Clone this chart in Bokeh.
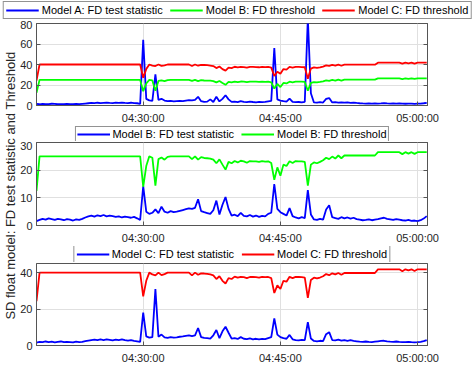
from datetime import datetime, timedelta
from bokeh.plotting import figure
from bokeh.layouts import column, row
from bokeh.models import (Range1d, FixedTicker, DatetimeTickFormatter, LinearAxis,
                          Legend, LegendItem, Label)
from bokeh.embed import file_html
from bokeh.resources import INLINE

# ---------------- data ----------------
DATE = "2020-01-01"
START_TIME = "04:18:20"      # first sample / left edge of the axes
END_TIME = "05:01:05"        # right edge of the axes
STEP_SECONDS = 20            # sampling interval of the arrays below
TICK_LABELS = ["04:30:00", "04:45:00", "05:00:00"]
Y_LABEL = "SD float model: FD test statistic and Threshold"

Y1_TICKS = [0, 20, 40, 60, 80]
Y2_TICKS = [0, 10, 20, 30]
Y3_TICKS = [0, 20, 40]
Y1_MAX, Y2_MAX, Y3_MAX = 80, 30, 45

model_a_stat = [
    1.5, 1.2, 1.6, 1.4, 1.3, 1.7, 1.5, 1.2, 1.4, 1.3,
    1.6, 1.4, 1.2, 1.5, 1.3, 1.6, 1.9, 2.2, 2.5, 2.3,
    2.7, 2.4, 2.6, 2.8, 2.5, 2.3, 2.7, 2.5, 2.9, 2.6,
    2.4, 2.7, 2.3, 2.2, 1.6, 64.0, 6.5, 5.0, 4.5, 30.5,
    5.5, 6.5, 4.8, 4.2, 4.5, 4.0, 4.3, 4.6, 4.2, 4.8,
    5.2, 5.0, 5.5, 8.5, 4.2, 3.6, 3.8, 6.0, 3.4, 8.5,
    4.0, 6.5, 10.0, 6.0, 3.5, 3.8, 3.3, 4.2, 3.5, 3.2,
    3.8, 3.4, 3.1, 3.6, 3.3, 3.5, 4.0, 4.5, 56.0, 6.0,
    4.8, 4.2, 3.8, 6.8, 3.5, 3.2, 3.4, 3.0, 3.6, 85.0,
    12.0, 3.0, 2.8, 3.2, 2.9, 6.5, 7.3, 3.0, 3.2, 2.8,
    3.1, 2.9, 3.0, 2.6, 2.9, 2.5, 2.2, 2.0, 1.9, 2.1,
    1.8, 2.0, 1.9, 2.1, 2.4, 2.0, 1.8, 2.0, 1.9, 2.1,
    1.8, 1.7, 1.9, 1.8, 1.6, 1.8, 1.9, 2.2, 2.6,
]

model_b_stat = [
    1.6, 2.0, 2.4, 2.1, 2.6, 2.3, 2.0, 2.4, 2.2, 1.9,
    2.3, 2.1, 1.8, 2.2, 2.0, 2.4, 2.9, 3.3, 3.6, 3.2,
    3.7, 3.4, 3.8, 3.3, 3.6, 3.4, 3.1, 3.3, 2.9, 3.2,
    3.0, 2.8, 3.1, 2.6, 2.0, 14.2, 5.0, 4.2, 4.6, 5.8,
    4.5, 6.8, 5.0, 4.6, 5.2, 4.8, 5.0, 5.3, 5.6, 5.9,
    6.2, 6.0, 6.4, 9.5, 5.2, 4.8, 4.5, 4.2, 5.5, 9.0,
    4.0, 7.5, 10.3, 6.0, 3.6, 3.9, 3.4, 4.6, 3.5, 3.3,
    3.8, 3.2, 3.6, 3.1, 3.5, 3.3, 4.2, 4.6, 15.0, 6.0,
    4.8, 4.2, 3.6, 6.3, 3.4, 2.9, 2.6, 3.0, 2.7, 12.8,
    4.0, 2.2, 2.0, 2.4, 2.1, 5.8, 7.3, 3.0, 2.7, 2.4,
    3.0, 2.6, 2.9, 2.5, 2.8, 2.3, 2.1, 1.9, 2.0, 2.2,
    1.9, 2.1, 2.3, 2.6, 2.8, 2.4, 2.2, 2.0, 2.3, 2.1,
    1.9, 1.8, 2.0, 1.7, 1.8, 1.6, 1.9, 2.5, 3.4,
]

model_c_stat = [
    1.6, 2.0, 1.8, 2.2, 1.9, 2.1, 1.7, 2.0, 2.2, 1.8,
    2.0, 1.9, 1.7, 2.1, 1.9, 2.0, 2.4, 2.7, 3.0, 3.2,
    2.9, 3.3, 3.0, 3.4, 3.1, 2.8, 3.2, 3.0, 3.3, 2.9,
    2.7, 3.0, 2.6, 2.3, 2.0, 18.1, 5.0, 4.3, 4.6, 31.0,
    4.8, 6.0, 4.5, 4.2, 4.6, 4.3, 4.5, 4.8, 5.0, 5.3,
    5.5, 5.2, 5.6, 9.6, 4.6, 4.2, 4.0, 3.8, 5.6, 8.5,
    4.0, 7.8, 10.3, 7.0, 3.8, 4.0, 3.6, 4.6, 3.7, 3.5,
    3.9, 3.4, 3.7, 3.3, 3.6, 3.5, 4.1, 4.6, 14.9, 6.0,
    4.6, 4.0, 3.7, 5.8, 3.4, 3.0, 2.8, 3.1, 2.9, 12.8,
    3.8, 2.5, 2.3, 2.6, 2.4, 6.2, 7.3, 3.0, 2.8, 3.2,
    2.7, 3.0, 2.6, 2.9, 2.5, 2.3, 2.1, 2.0, 2.2, 2.0,
    1.9, 2.1, 2.3, 2.5, 2.6, 2.3, 2.1, 2.0, 2.2, 2.0,
    1.9, 1.8, 2.0, 1.8, 1.7, 1.8, 2.0, 2.4, 3.0,
]

model_b_thr = [
    12.5, 25.0, 25.0, 25.0, 25.0, 25.0, 25.0, 25.0, 25.0, 25.0,
    25.0, 25.0, 25.0, 25.0, 25.0, 25.0, 25.0, 25.0, 25.0, 25.0,
    25.0, 25.0, 25.0, 25.0, 25.0, 25.0, 25.0, 25.0, 25.0, 25.0,
    25.0, 25.0, 25.0, 25.0, 25.0, 14.0, 21.5, 25.0, 24.5, 14.4,
    24.0, 24.6, 23.8, 24.8, 25.0, 25.0, 25.0, 25.0, 25.0, 25.0,
    25.0, 24.0, 25.0, 23.8, 24.7, 24.4, 24.3, 24.2, 23.8, 22.5,
    23.9, 22.0, 20.2, 23.0, 22.5, 23.3, 22.8, 23.4, 23.2, 22.7,
    23.3, 23.2, 23.2, 23.0, 23.3, 23.1, 23.2, 22.6, 16.5, 21.0,
    18.0, 22.0, 21.5, 23.2, 22.6, 23.3, 23.2, 23.2, 23.0, 14.4,
    22.0, 22.8, 22.5, 23.0, 23.6, 24.5, 24.0, 24.9, 24.2, 25.3,
    24.3, 25.3, 25.3, 25.3, 25.3, 25.3, 25.3, 25.3, 25.3, 25.3,
    25.3, 25.3, 26.5, 26.5, 26.5, 26.5, 26.5, 26.5, 26.5, 26.5,
    25.8, 26.5, 26.0, 26.5, 25.9, 26.5, 26.5, 26.5, 26.5,
]

model_c_thr = [
    24.3, 40.0, 40.0, 40.0, 40.0, 40.0, 40.0, 40.0, 40.0, 40.0,
    40.0, 40.0, 40.0, 40.0, 40.0, 40.0, 40.0, 40.0, 40.0, 40.0,
    40.0, 40.0, 40.0, 40.0, 40.0, 40.0, 40.0, 40.0, 40.0, 40.0,
    40.0, 40.0, 40.0, 40.0, 40.0, 27.0, 35.5, 40.0, 39.0, 38.5,
    40.0, 38.6, 39.2, 40.0, 40.0, 40.0, 40.0, 40.0, 40.0, 40.0,
    40.0, 38.5, 40.0, 38.8, 39.6, 39.5, 39.3, 39.0, 38.5, 36.5,
    38.0, 35.5, 34.0, 37.0, 36.5, 37.8, 37.2, 37.7, 37.5, 37.0,
    37.6, 37.6, 37.5, 37.3, 37.7, 37.5, 37.6, 37.0, 28.8, 33.0,
    31.0, 35.5, 35.0, 37.7, 37.0, 37.7, 37.6, 37.5, 37.3, 26.1,
    36.0, 37.2, 36.8, 37.3, 38.0, 39.2, 38.6, 39.6, 39.0, 39.8,
    38.8, 39.8, 39.8, 39.8, 39.8, 39.8, 39.8, 39.8, 39.8, 39.8,
    39.8, 39.8, 41.8, 41.8, 41.8, 41.8, 41.8, 41.8, 41.8, 41.8,
    40.8, 41.8, 41.2, 41.8, 40.9, 41.8, 41.8, 41.8, 41.8,
]

N = len(model_a_stat)
for arr in (model_b_stat, model_c_stat, model_b_thr, model_c_thr):
    assert len(arr) == N, len(arr)

# ---------------- helpers ----------------
def parse(t):
    return datetime.strptime(DATE + " " + t, "%Y-%m-%d %H:%M:%S")

EPOCH = datetime(1970, 1, 1)

def to_ms(dt):
    return (dt - EPOCH).total_seconds() * 1000.0

t_start = parse(START_TIME)
t_end = parse(END_TIME)
times = [t_start + timedelta(seconds=STEP_SECONDS * i) for i in range(N)]
tick_ms = [to_ms(parse(s)) for s in TICK_LABELS]

FONT = "Liberation Sans"
BOX = "#555555"
GRID = "#e0e0e0"
TXT = "#262626"
BLUE, GREEN, RED = "#0000ff", "#00ff00", "#ff0000"
LW = 1.8
HMS = "%H:%M:%S"
TOTAL_W = 474
LABEL_W = 17
PW = TOTAL_W - LABEL_W   # width of panel figures
BL, BR = 17, 47          # left / right borders of the panels
FS = "11px"


def hms_formatter():
    return DatetimeTickFormatter(microseconds=HMS, milliseconds=HMS, seconds=HMS,
                                 minsec=HMS, minutes=HMS, hourmin=HMS, hours=HMS,
                                 days=HMS, months=HMS, years=HMS)


def style_axis(ax):
    ax.major_tick_in = 4
    ax.major_tick_out = 0
    ax.minor_tick_line_color = None
    ax.axis_line_color = BOX
    ax.major_tick_line_color = BOX
    ax.major_label_text_font = FONT
    ax.major_label_text_font_size = FS
    ax.major_label_text_color = TXT


def panel(height, top, bottom, ymax, yticks):
    p = figure(width=PW, height=height, x_axis_type="datetime",
               x_range=Range1d(t_start, t_end), y_range=Range1d(0, ymax),
               output_backend="svg", toolbar_location=None,
               min_border_left=BL, min_border_right=BR,
               min_border_top=top, min_border_bottom=bottom)
    p.outline_line_color = BOX
    p.outline_line_width = 1
    xt = FixedTicker(ticks=tick_ms)
    yt = FixedTicker(ticks=yticks)
    xa = p.xaxis[0]
    ya = p.yaxis[0]
    xa.ticker = xt
    xa.formatter = hms_formatter()
    ya.ticker = yt
    style_axis(xa)
    style_axis(ya)
    xa.major_label_standoff = 6
    ya.major_label_standoff = 4
    p.xgrid[0].ticker = xt
    p.ygrid[0].ticker = yt
    p.xgrid.grid_line_color = GRID
    p.ygrid.grid_line_color = GRID
    ra = LinearAxis(ticker=FixedTicker(ticks=yticks),
                    major_label_overrides={v: "" for v in yticks})
    style_axis(ra)
    ra.major_label_standoff = 0
    p.add_layout(ra, "right")
    return p


def legend_fig(width, height, left, right, pad, entries):
    """A strip that only holds a legend; entries = (label, series, colour)."""
    f = figure(width=width, height=height, x_range=Range1d(t_start, t_end),
               y_range=Range1d(0, 1), x_axis_type=None, y_axis_type=None,
               output_backend="svg", toolbar_location=None,
               min_border_left=left, min_border_right=right,
               min_border_top=0, min_border_bottom=0)
    f.outline_line_color = None
    items = []
    for label, series, col in entries:
        r = f.line(times, series, color=col, line_width=LW, visible=False)
        items.append(LegendItem(label=label, renderers=[r]))
    leg = Legend(items=items, orientation="horizontal", location="center",
                 click_policy="none")
    leg.label_text_font = FONT
    leg.label_text_font_size = FS
    leg.label_text_color = "#000000"
    leg.glyph_width = 33
    leg.glyph_height = 12
    leg.label_height = 12
    leg.label_standoff = 3
    leg.spacing = 7
    leg.padding = pad
    leg.margin = 0
    leg.border_line_color = "#262626"
    leg.border_line_width = 1
    leg.background_fill_color = "white"
    leg.background_fill_alpha = 1.0
    leg.inactive_fill_alpha = 0.0
    f.add_layout(leg, "center")
    return f


# ---------------- panel 1 ----------------
lf1 = legend_fig(TOTAL_W, 20, 0, 0, 2, [
    ("Model A: FD test statistic", model_a_stat, BLUE),
    ("Model B: FD threshold", model_b_thr, GREEN),
    ("Model C: FD threshold", model_c_thr, RED),
])
p1 = panel(106, 3, 19, Y1_MAX, Y1_TICKS)
p1.line(times, model_a_stat, color=BLUE, line_width=LW)
p1.line(times, model_b_thr, color=GREEN, line_width=LW)
p1.line(times, model_c_thr, color=RED, line_width=LW)

# ---------------- panel 2 ----------------
lf2 = legend_fig(PW, 15, BL, BR, 1, [
    ("Model B: FD test statistic", model_b_stat, BLUE),
    ("Model B: FD threshold", model_b_thr, GREEN),
])
p2 = panel(105, 1, 19, Y2_MAX, Y2_TICKS)
p2.line(times, model_b_stat, color=BLUE, line_width=LW)
p2.line(times, model_b_thr, color=GREEN, line_width=LW)

# ---------------- panel 3 ----------------
lf3 = legend_fig(PW, 16, BL, BR, 2, [
    ("Model C: FD test statistic", model_c_stat, BLUE),
    ("Model C: FD threshold", model_c_thr, RED),
])
p3 = panel(104, 1, 19, Y3_MAX, Y3_TICKS)
p3.line(times, model_c_stat, color=BLUE, line_width=LW)
p3.line(times, model_c_thr, color=RED, line_width=LW)

# ---------------- shared y label ----------------
labf = figure(width=LABEL_W, height=346, x_range=Range1d(0, 1), y_range=Range1d(0, 1),
              x_axis_type=None, y_axis_type=None, output_backend="svg",
              toolbar_location=None, min_border=0)
labf.outline_line_color = None
labf.add_layout(Label(x=0.59, y=0.523, text=Y_LABEL, angle=90, angle_units="deg",
                      text_align="center", text_baseline="middle",
                      text_font=FONT, text_font_size="13px", text_color=TXT))

layout = column(lf1, row(labf, column(p1, lf2, p2, lf3, p3)))

open("out.html", "w").write(file_html(layout, INLINE, title="FD test statistics"))
